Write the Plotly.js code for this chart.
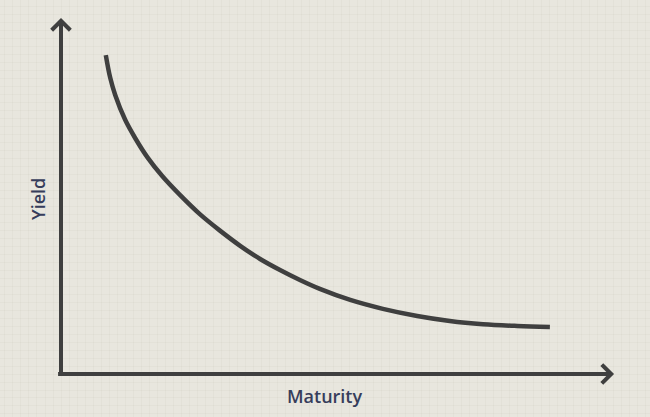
<!DOCTYPE html>
<html>
<head>
<meta charset="utf-8">
<script src="https://cdn.plot.ly/plotly-3.0.1.min.js"></script>
<style>
  html, body { margin: 0; padding: 0; background: #e8e6de; }
  #chart { width: 650px; height: 417px; }
</style>
</head>
<body>
<div id="chart"></div>
<script>
// Curve (maturity vs yield, arbitrary units, axes 0..10)
const maturity = [0.81, 0.89, 0.98, 1.16, 1.34, 1.57, 1.83, 2.15, 2.51, 2.88, 3.24, 3.60, 3.96, 4.32, 4.68, 5.23, 5.82, 6.44, 7.03, 7.63, 8.25, 8.84];
const yieldVals = [8.96, 8.32, 7.84, 7.14, 6.63, 6.07, 5.56, 5.03, 4.49, 4.02, 3.60, 3.23, 2.92, 2.64, 2.39, 2.08, 1.83, 1.63, 1.49, 1.40, 1.35, 1.32];

const xLabel = 'Maturity';
const yLabel = 'Yield';

const ink = '#3f3f3f';
const textColor = '#363d5b';

const curve = {
    x: maturity,
    y: yieldVals,
    type: 'scatter',
    mode: 'lines',
    line: { color: ink, width: 4.5, shape: 'spline', smoothing: 1 },
    hoverinfo: 'skip'
};

// Axis arrows drawn as annotations in data space
function arrow(x, y, ax, ay) {
    return {
        x: x, y: y, ax: ax, ay: ay,
        xref: 'x', yref: 'y', axref: 'x', ayref: 'y',
        text: '', showarrow: true,
        arrowhead: 4, arrowsize: 0.9, arrowwidth: 4, arrowcolor: ink
    };
}

const labelFont = { family: 'Open Sans, Noto Sans, sans-serif', size: 18, color: textColor, weight: 600 };

const layout = {
    width: 650,
    height: 417,
    margin: { t: 0, b: 0, l: 0, r: 0 },
    paper_bgcolor: '#e8e6de',
    plot_bgcolor: '#e8e6de',
    showlegend: false,
    xaxis: {
        range: [-1.103, 10.65],
        showticklabels: false, ticks: '', zeroline: false, showline: false,
        showgrid: true, gridcolor: 'rgba(120,110,90,0.045)', gridwidth: 1,
        tick0: 0, dtick: 0.1447, fixedrange: true
    },
    yaxis: {
        range: [-1.208, 10.506],
        showticklabels: false, ticks: '', zeroline: false, showline: false,
        showgrid: true, gridcolor: 'rgba(120,110,90,0.045)', gridwidth: 1,
        tick0: 0, dtick: 0.2247, fixedrange: true
    },
    annotations: [
        arrow(0, 10.0, 0, -0.03),
        arrow(10.0, 0, -0.08, 0),
        {
            x: -0.42, y: 4.91, xref: 'x', yref: 'y',
            text: yLabel, showarrow: false, textangle: -90, font: labelFont
        },
        {
            x: 4.77, y: -0.62, xref: 'x', yref: 'y',
            text: xLabel, showarrow: false, font: labelFont
        }
    ]
};

Plotly.newPlot('chart', [curve], layout, { displayModeBar: false, staticPlot: true });
</script>
</body>
</html>
